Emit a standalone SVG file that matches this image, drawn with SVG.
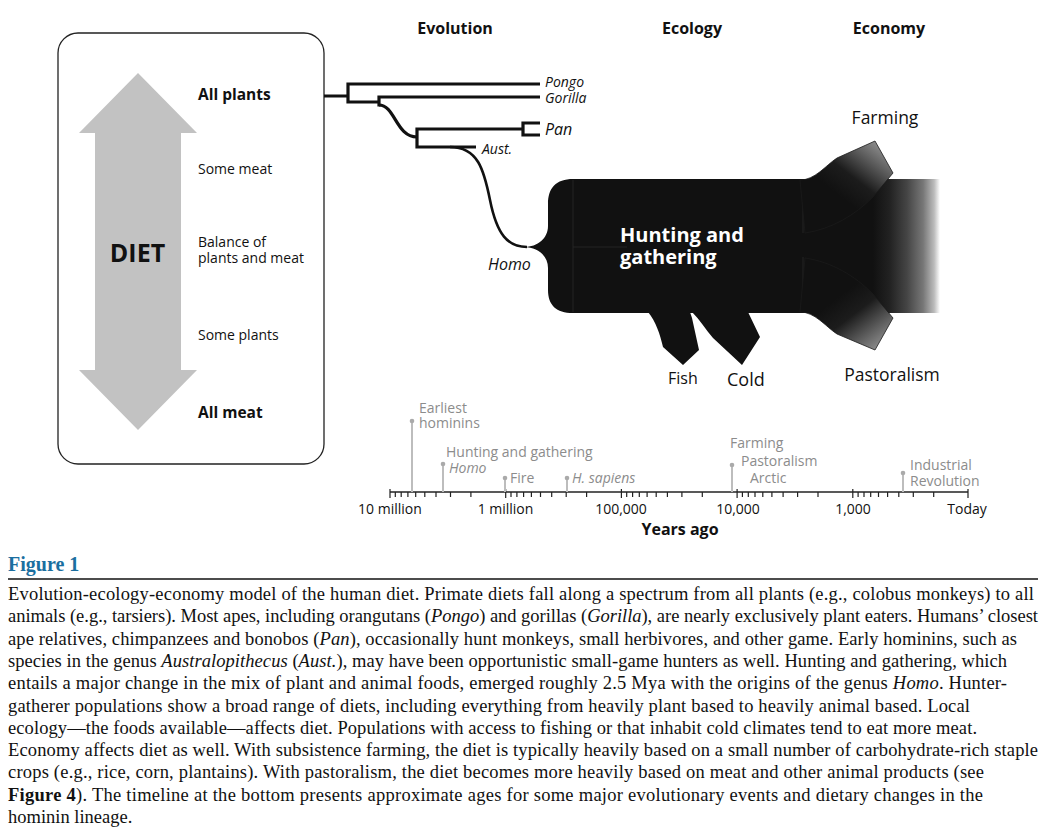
<svg xmlns="http://www.w3.org/2000/svg" width="1052" height="836" viewBox="0 0 1052 836">
<style>
.sans{font-family:"Open Sans","Liberation Sans",sans-serif;}
.hdr{font-family:"Open Sans","Liberation Sans",sans-serif;font-weight:bold;font-size:16px;fill:#111;text-anchor:middle;}
.lvl{font-family:"Open Sans","Liberation Sans",sans-serif;font-size:14px;fill:#111;}
.lvlb{font-family:"Open Sans","Liberation Sans",sans-serif;font-size:15.5px;font-weight:bold;fill:#111;}
.sp{font-family:"Open Sans","Liberation Sans",sans-serif;font-style:italic;fill:#111;}
.eco{font-family:"Open Sans","Liberation Sans",sans-serif;fill:#111;}
.tl{font-family:"Open Sans","Liberation Sans",sans-serif;font-size:14px;fill:#8c8c8c;}
.ax{font-family:"Open Sans","Liberation Sans",sans-serif;font-size:14px;fill:#111;text-anchor:middle;}
.branch{fill:none;stroke:#111;stroke-width:3.2;stroke-linecap:butt;stroke-linejoin:miter;}
.stem{stroke:#bdbdbd;stroke-width:2;}
.dot{fill:#aaaaaa;}
.tick{stroke:#222;stroke-width:1.2;}
.cap{font-family:"Liberation Serif","Times New Roman",serif;font-size:18.5px;fill:#111;}
.seam{stroke:#2a2a2a;stroke-width:0.8;fill:none;}
</style>
<defs>
<linearGradient id="bodyGrad" gradientUnits="userSpaceOnUse" x1="548" y1="0" x2="940" y2="0">
<stop offset="0" stop-color="#111"/>
<stop offset="0.829" stop-color="#111"/>
<stop offset="0.872" stop-color="#222"/>
<stop offset="0.916" stop-color="#454545"/>
<stop offset="0.957" stop-color="#777"/>
<stop offset="0.985" stop-color="#bbb"/>
<stop offset="1" stop-color="#fff"/>
</linearGradient>
<linearGradient id="farmGrad" gradientUnits="userSpaceOnUse" x1="845" y1="200" x2="885" y2="148">
<stop offset="0" stop-color="#111"/>
<stop offset="0.35" stop-color="#1c1c1c"/>
<stop offset="0.7" stop-color="#5a5a5a"/>
<stop offset="1" stop-color="#8e8e8e"/>
</linearGradient>
<linearGradient id="pastGrad" gradientUnits="userSpaceOnUse" x1="845" y1="292" x2="885" y2="344">
<stop offset="0" stop-color="#111"/>
<stop offset="0.35" stop-color="#1c1c1c"/>
<stop offset="0.7" stop-color="#5a5a5a"/>
<stop offset="1" stop-color="#8e8e8e"/>
</linearGradient>
</defs>
<rect width="1052" height="836" fill="#fff"/>

<g id="headers">
<text class="hdr" x="455" y="34">Evolution</text>
<text class="hdr" x="692" y="34">Ecology</text>
<text class="hdr" x="889" y="34">Economy</text>
</g>

<g id="diet-box">
<rect x="58" y="33" width="266" height="431" rx="20" ry="20" fill="#fff" stroke="#222" stroke-width="1.3"/>
<polygon points="138,73 197,133 181,133 181,370 197,370 138,430 79,370 95,370 95,133 79,133" fill="#c2c2c2"/>
<text class="sans" x="137.5" y="262" font-size="25" font-weight="bold" fill="#111" text-anchor="middle">DIET</text>
<text class="lvlb" x="198" y="100">All plants</text>
<text class="lvl" x="198" y="174">Some meat</text>
<text class="lvl" x="198" y="247">Balance of</text>
<text class="lvl" x="198" y="263">plants and meat</text>
<text class="lvl" x="198" y="340">Some plants</text>
<text class="lvlb" x="198" y="418">All meat</text>
</g>

<g id="tree">
<path class="branch" d="M324 96 H348 M348 82.5 V103.5 M348 84 H540 M348 102 H379 M379 95.5 V106.5 M379 97 H540"/>
<path class="branch" d="M379 105 C395 105 396 137 417 137"/>
<path class="branch" d="M417 127.5 V148.5 M417 129 H523 M523 121.5 V136.5 M523 123 H540 M523 135 H540 M417 147 H476"/>
<path d="M450 147 C478 147 484 170 490 200 C497 235 508 247 527 247" fill="none" stroke="#111" stroke-width="2.6"/>
<text class="sp" x="545" y="87" font-size="14">Pongo</text>
<text class="sp" x="545" y="103" font-size="14">Gorilla</text>
<text class="sp" x="545" y="135" font-size="16">Pan</text>
<text class="sp" x="482" y="154" font-size="14">Aust.</text>
<text class="sp" x="488" y="270" font-size="16">Homo</text>
</g>

<g id="hunting-gathering">
<path d="M573 179 H940 V313 H573 C556 313 548 305 548 290 L548 268 C548 256 538 247 524 247 C538 247 548 238 548 226 L548 204 C548 188 556 179 573 179 Z" fill="url(#bodyGrad)"/>
<path class="seam" d="M573 180 V312 M573 247 H627 M803 180 V233 M803 257 V312"/>
<text class="sans" x="620" y="242" font-size="20" font-weight="bold" fill="#fff">Hunting and</text>
<text class="sans" x="620" y="264" font-size="20" font-weight="bold" fill="#fff">gathering</text>
</g>

<g id="fish">
<path d="M648 312 C656 322 660 334 663 347 L683 365 L699 350 L692 318 L690 312 Z" fill="#111"/>
<text class="eco" x="668" y="384" font-size="16">Fish</text>
</g>

<g id="cold">
<path d="M692 312 C700 320 706 330 713 338 L742 365 L760 337 L748 312 Z" fill="#111"/>
<text class="eco" x="727" y="386" font-size="18">Cold</text>
</g>

<g id="farming">
<path d="M800 180 C815 180 825 166 837 158 L875 141 L893 173 L873 197 C855 215 832 229 805 233 Z" fill="url(#farmGrad)" stroke="#1a1a1a" stroke-width="0.8"/>
<text class="eco" x="885" y="124" font-size="17.5" text-anchor="middle">Farming</text>
</g>

<g id="pastoralism">
<path d="M800 312 C815 312 825 326 837 334 L875 350 L893 318 L873 294 C855 276 832 262 805 258 Z" fill="url(#pastGrad)" stroke="#1a1a1a" stroke-width="0.8"/>
<text class="eco" x="892" y="381" font-size="17.5" text-anchor="middle">Pastoralism</text>
</g>

<g id="timeline">
<line x1="390" y1="492" x2="968" y2="492" stroke="#222" stroke-width="1.5"/>
<path class="tick" d="M390 489 V498 M505.7 489 V498 M621.4 489 V498 M737.1 489 V498 M852.8 489 V498 M968 489 V498"/>
<path class="tick" d="M395.3 492 V497 M401.2 492 V497 M407.9 492 V497 M415.7 492 V497 M424.8 492 V497 M436 492 V497 M450.5 492 V497 M470.9 492 V497
M511 492 V497 M516.9 492 V497 M523.6 492 V497 M531.4 492 V497 M540.5 492 V497 M551.7 492 V497 M566.2 492 V497 M586.6 492 V497
M626.7 492 V497 M632.6 492 V497 M639.3 492 V497 M647.1 492 V497 M656.2 492 V497 M667.4 492 V497 M681.9 492 V497 M702.3 492 V497
M742.4 492 V497 M748.3 492 V497 M755 492 V497 M762.8 492 V497 M771.9 492 V497 M783.1 492 V497 M797.6 492 V497 M818 492 V497
M858.1 492 V497 M864 492 V497 M870.7 492 V497 M878.5 492 V497 M887.6 492 V497 M898.8 492 V497 M913.3 492 V497 M933.7 492 V497"/>
<line class="stem" x1="412" y1="421" x2="412" y2="492"/><circle class="dot" cx="412" cy="421" r="2.3"/>
<line class="stem" x1="443" y1="464" x2="443" y2="492"/><circle class="dot" cx="443" cy="464" r="2.3"/>
<line class="stem" x1="505" y1="478" x2="505" y2="492"/><circle class="dot" cx="505" cy="478" r="2.3"/>
<line class="stem" x1="567" y1="478" x2="567" y2="492"/><circle class="dot" cx="567" cy="478" r="2.3"/>
<line class="stem" x1="732" y1="465" x2="732" y2="492"/><circle class="dot" cx="732" cy="465" r="2.3"/>
<line class="stem" x1="903" y1="473" x2="903" y2="492"/><circle class="dot" cx="903" cy="473" r="2.3"/>
<text class="tl" x="419" y="413">Earliest</text>
<text class="tl" x="419" y="428">hominins</text>
<text class="tl" x="446" y="457">Hunting and gathering</text>
<text class="tl" x="449" y="473" font-style="italic">Homo</text>
<text class="tl" x="510" y="483">Fire</text>
<text class="tl" x="572" y="483" font-style="italic">H. sapiens</text>
<text class="tl" x="730" y="448">Farming</text>
<text class="tl" x="741" y="466">Pastoralism</text>
<text class="tl" x="750" y="483">Arctic</text>
<text class="tl" x="910" y="470">Industrial</text>
<text class="tl" x="910" y="486">Revolution</text>
<text class="ax" x="390" y="514">10 million</text>
<text class="ax" x="505.5" y="514">1 million</text>
<text class="ax" x="621" y="514">100,000</text>
<text class="ax" x="738" y="514">10,000</text>
<text class="ax" x="853" y="514">1,000</text>
<text class="ax" x="967" y="514">Today</text>
<text class="sans" x="680" y="535" font-size="16" font-weight="bold" fill="#111" text-anchor="middle">Years ago</text>
</g>

<g id="caption">
<text x="8" y="571" font-family="'Liberation Serif','Times New Roman',serif" font-size="20" font-weight="bold" fill="#1b6fa0">Figure 1</text>
<line x1="8" y1="579" x2="1038" y2="579" stroke="#111" stroke-width="1.5"/>
<text class="cap" x="8" y="600" textLength="1026" lengthAdjust="spacing">Evolution-ecology-economy model of the human diet. Primate diets fall along a spectrum from all plants (e.g., colobus monkeys) to all</text>
<text class="cap" x="8" y="622.3" textLength="1030" lengthAdjust="spacing">animals (e.g., tarsiers). Most apes, including orangutans (<tspan font-style="italic">Pongo</tspan>) and gorillas (<tspan font-style="italic">Gorilla</tspan>), are nearly exclusively plant eaters. Humans’ closest</text>
<text class="cap" x="8" y="644.6" textLength="1009" lengthAdjust="spacing">ape relatives, chimpanzees and bonobos (<tspan font-style="italic">Pan</tspan>), occasionally hunt monkeys, small herbivores, and other game. Early hominins, such as</text>
<text class="cap" x="8" y="666.9" textLength="999" lengthAdjust="spacing">species in the genus <tspan font-style="italic">Australopithecus</tspan> (<tspan font-style="italic">Aust.</tspan>), may have been opportunistic small-game hunters as well. Hunting and gathering, which</text>
<text class="cap" x="8" y="689.2" textLength="999" lengthAdjust="spacing">entails a major change in the mix of plant and animal foods, emerged roughly 2.5 Mya with the origins of the genus <tspan font-style="italic">Homo</tspan>. Hunter-</text>
<text class="cap" x="8" y="711.5" textLength="962" lengthAdjust="spacing">gatherer populations show a broad range of diets, including everything from heavily plant based to heavily animal based. Local</text>
<text class="cap" x="8" y="733.8" textLength="969" lengthAdjust="spacing">ecology—the foods available—affects diet. Populations with access to fishing or that inhabit cold climates tend to eat more meat.</text>
<text class="cap" x="8" y="756.1" textLength="1030" lengthAdjust="spacing">Economy affects diet as well. With subsistence farming, the diet is typically heavily based on a small number of carbohydrate-rich staple</text>
<text class="cap" x="8" y="778.4" textLength="976" lengthAdjust="spacing">crops (e.g., rice, corn, plantains). With pastoralism, the diet becomes more heavily based on meat and other animal products (see</text>
<text class="cap" x="8" y="800.7" textLength="975" lengthAdjust="spacing"><tspan font-weight="bold">Figure 4</tspan>). The timeline at the bottom presents approximate ages for some major evolutionary events and dietary changes in the</text>
<text class="cap" x="8" y="823">hominin lineage.</text>
</g>
</svg>
